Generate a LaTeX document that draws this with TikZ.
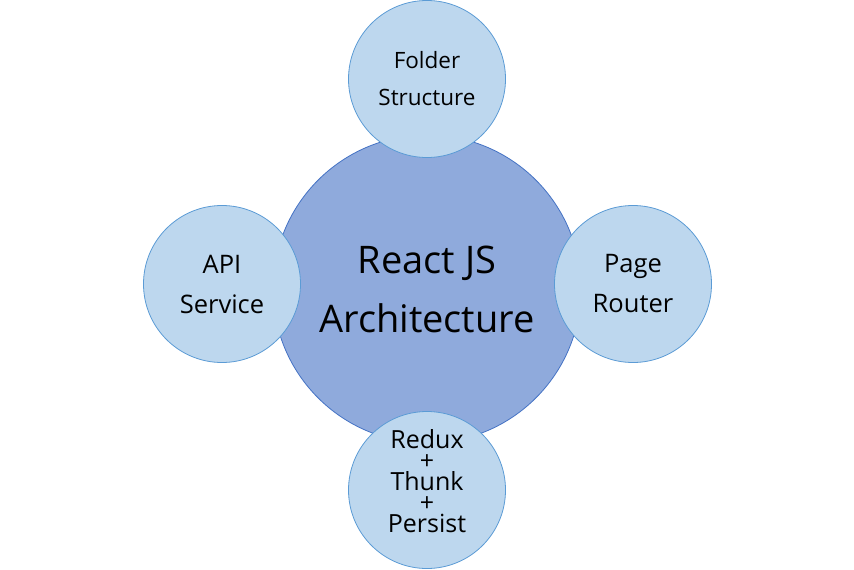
\documentclass[tikz,border=0pt]{standalone}
\usepackage{fontspec}
\setmainfont{Open Sans}
\definecolor{hubfill}{HTML}{8FAADC}
\definecolor{hubline}{HTML}{4472C4}
\definecolor{satfill}{HTML}{BDD7EE}
\definecolor{satline}{HTML}{5B9BD5}
\begin{document}
\begin{tikzpicture}[x=1pt,y=-1pt,
  hub/.style={circle, draw=hubline, fill=hubfill, line width=0.8pt, minimum size=308pt, inner sep=0pt, align=center, text=black,
     font=\fontsize{38}{59}\selectfont},
  sat/.style={circle, draw=satline, fill=satfill, line width=0.8pt, minimum size=157pt, inner sep=0pt, align=center, text=black},
  sidefont/.style={font=\fontsize{25.5}{40}\selectfont},
  topfont/.style={font=\fontsize{22.5}{37}\selectfont},
  botfont/.style={font=\fontsize{25}{21}\selectfont, text depth=19pt}]
\useasboundingbox (0,0) rectangle (854,570);
\node[hub] (hub) at (427,289) {React JS\\Architecture};
\node[sat, topfont] (folder) at (427,79) {Folder\\Structure};
\node[sat, sidefont] (api) at (222,284) {API\\Service};
\node[sat, sidefont] (router) at (633,284) {Page\\Router};
\node[sat, botfont] (redux) at (427,490) {Redux\\+\\Thunk\\+\\Persist};
\end{tikzpicture}
\end{document}
